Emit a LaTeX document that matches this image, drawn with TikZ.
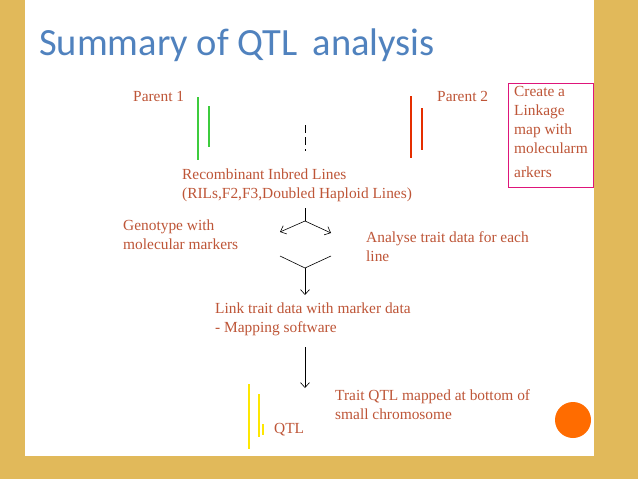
\documentclass[tikz,border=0pt]{standalone}
\usepackage{fontspec}
\usetikzlibrary{arrows.meta}
\setmainfont{Liberation Serif}
\newfontfamily\titlefont{Carlito}
\definecolor{txt}{RGB}{190,85,55}
\definecolor{gold}{RGB}{225,185,90}
\definecolor{ttl}{RGB}{80,130,190}
\begin{document}
\begin{tikzpicture}[x=1pt,y=-1pt,
  lbl/.style={text=txt,font=\fontsize{15.4}{19}\selectfont,anchor=north west,inner sep=0,align=left},
  ar/.style={-{Straight Barb[length=5pt,width=9pt]},semithick,black}]
\fill[gold] (0,0) rectangle (638,479);
\fill[white] (25,0) rectangle (594,456);
\node[anchor=west,text=ttl,font=\titlefont\fontsize{38.5}{42}\selectfont,inner sep=0] (title) at (39,45) {Summary of QTL\, analysis};
\node[lbl] (p1) at (133,91) {Parent 1};
\node[lbl] (p2) at (437,91) {Parent 2};
\draw[green!70!white!80!black,line width=1.3] (198,97) -- (198,160) (209,106) -- (209,147);
\draw[red!60!orange!90!black,line width=1.3] (411,96) -- (411,158) (422,108) -- (422,150);
\coordinate (da) at (305,125); \coordinate (db) at (305,151);
\draw[semithick,dashed,dash pattern=on 8pt off 4pt] (da) -- (db);
\node[draw=magenta!70!purple,line width=0.8,minimum width=85,minimum height=104,anchor=north west,inner sep=0] (box) at (508,83) {};
\node[lbl] (ct) at (514,86) {Create a\\Linkage\\map with\\molecularm\\[5pt]arkers};
\node[lbl] (ril) at (182,169) {Recombinant Inbred Lines\\(RILs,F2,F3,Doubled Haploid Lines)};
\coordinate (s0) at (305,208); \coordinate (s1) at (305,221);
\coordinate (sl) at (280,232); \coordinate (sr) at (331,233);
\draw[semithick] (s0) -- (s1);
\draw[ar] (s1) -- (sl); \draw[ar] (s1) -- (sr);
\node[lbl] (geno) at (123,220) {Genotype with\\molecular markers};
\node[lbl] (ana) at (366,231) {Analyse trait data for each\\line};
\coordinate (ml) at (280,256); \coordinate (mr) at (331,256); \coordinate (m0) at (305,268);
\coordinate (m1) at (305,295);
\draw[semithick] (ml) -- (m0) -- (mr);
\draw[ar] (m0) -- (m1);
\node[lbl] (link) at (215,303) {Link trait data with marker data\\- Mapping software};
\coordinate (a0) at (305,347); \coordinate (a1) at (305,388);
\draw[ar] (a0) -- (a1);
\draw[yellow!90!orange,line width=1.3] (249,384) -- (249,449) (259,394) -- (259,437) (263,424) -- (263,435);
\node[lbl] (qtl) at (274,423) {QTL};
\node[lbl] (trait) at (335,389) {Trait QTL mapped at bottom of\\small chromosome};
\fill[orange!85!red] (573,420) circle (18);
\end{tikzpicture}
\end{document}
